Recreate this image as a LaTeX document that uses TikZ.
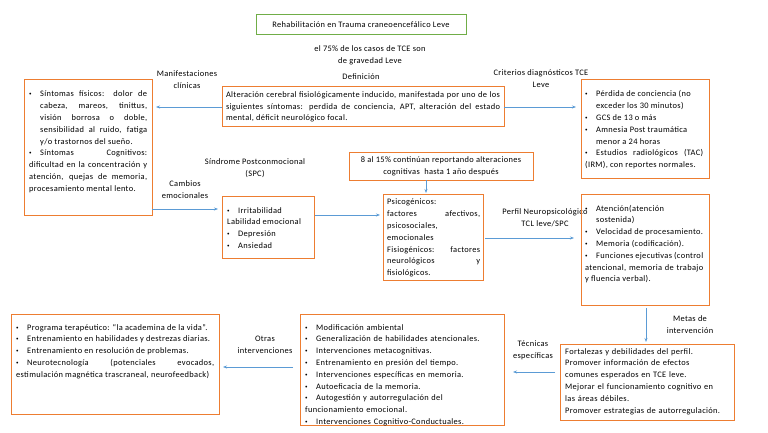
\documentclass[tikz,border=0pt]{standalone}
\usepackage{fontspec}
\setmainfont{Carlito}[LetterSpace=4]
\usetikzlibrary{arrows.meta}
\definecolor{org}{RGB}{237,125,49}
\definecolor{grn}{RGB}{112,173,71}
\definecolor{blu}{RGB}{91,155,213}
\hyphenpenalty=10000\relax
\exhyphenpenalty=10000\relax
\newcommand{\bt}[1]{\par\noindent\hangindent=11pt\hangafter=1\makebox[11pt][l]{\raisebox{1pt}{\scalebox{0.6}{\textbullet}}}#1}
\tikzset{
 bx/.style={draw=org,line width=1pt,inner sep=0pt,outer sep=0pt},
 tx/.style={inner sep=0pt,align=justify,font=\fontsize{8.4}{11.8}\selectfont},
 lb/.style={inner sep=0pt,align=center,font=\fontsize{8.4}{11.8}\selectfont},
 ar/.style={draw=blu,line width=0.8pt,-{Stealth[length=4pt,width=3pt]}}
}
\begin{document}
\begin{tikzpicture}[x=1pt,y=-1pt]
\useasboundingbox (0,0) rectangle (768,433);
% title
\draw[draw=grn,line width=1pt] (256,15) rectangle (466,35);
\node[lb] (title) at (361,25) {Rehabilitación en Trauma craneoencefálico Leve};
\node[lb] (pct) at (370,55) {el 75\% de los casos de TCE son\\de gravedad Leve};
\node[lb] (defl) at (361,77) {Definición};
% definition
\draw[bx] (222,87) rectangle (504,127);
\node[tx,text width=274pt] (def) at (363,107) {Alteración cerebral fisiológicamente inducido, manifestada por uno de los siguientes síntomas: perdida de conciencia, APT, alteración del estado mental, déficit neurológico focal.};
\coordinate (defL) at (222,107); \coordinate (defR) at (504,107);
% left top
\draw[bx] (24,80) rectangle (152,215);
\node[tx,text width=118pt,anchor=north west] (sint) at (29,85) {\bt{Síntomas físicos: dolor de cabeza, mareos, tinittus, visión borrosa o doble, sensibilidad al ruido, fatiga y/o trastornos del sueño.}\bt{Síntomas Cognitivos: dificultad en la concentración y atención, quejas de memoria, procesamiento mental lento.}};
\coordinate (sintR1) at (156,107); \coordinate (sintR2) at (152,209);
\node[lb] (manl) at (187,80) {Manifestaciones\\clínicas};
\draw[ar] (defL) -- (sintR1);
% criterios
\node[lb] (critl) at (541,79) {Criterios diagnósticos TCE\\Leve};
\draw[bx] (581,80) rectangle (709,178);
\node[tx,text width=118pt,anchor=north west] (crit) at (585,85) {\raggedright\bt{Pérdida de conciencia (no exceder los 30 minutos)}\bt{GCS de 13 o más}\bt{Amnesia Post traumática menor a 24 horas}\bt{Estudios radiológicos (TAC) (IRM), con reportes normales.}};
\coordinate (critL) at (576,107);
\draw[ar] (defR) -- (critL);
% SPC
\node[lb] (spcl) at (255,168) {Síndrome Postconmocional\\(SPC)};
\draw[bx] (349,152) rectangle (533,180);
\node[lb] (ocho) at (441,166) {8 al 15\% continúan reportando alteraciones\\cognitivas\ \ hasta 1 año después};
\coordinate (ochoB) at (426,180);
\node[lb] (caml) at (185,190) {Cambios\\emocionales};
\draw[bx] (222,196) rectangle (314,258);
\node[tx,text width=84pt,anchor=north west] (irr) at (227,201) {\raggedright\bt{Irritabilidad\\Labilidad emocional}\bt{Depresión}\bt{Ansiedad}};
\coordinate (irrL) at (218,209); \coordinate (irrR) at (315,215);
\draw[ar] (sintR2) -- (irrL);
\draw[bx] (383,194) rectangle (483,280);
\node[tx,text width=93pt,anchor=north west] (psi) at (387,199) {Psicogénicos:\\ factores afectivos, psicosociales, emocionales\\ Fisiogénicos: factores neurológicos y fisiológicos.};
\coordinate (psiT) at (426,193); \coordinate (psiL) at (380,215); \coordinate (psiR) at (485,238);
\draw[ar] (ochoB) -- (psiT);
\draw[ar] (irrR) -- (psiL);
\node[lb] (perl) at (545,218) {Perfil Neuropsicológico\\TCL leve/SPC};
\draw[bx] (581,194) rectangle (709,305);
\node[tx,text width=118pt,anchor=north west] (ate) at (585,199) {\bt{Atención(atención sostenida)}\bt{Velocidad de procesamiento.}\bt{Memoria (codificación).}\bt{Funciones ejecutivas (control atencional, memoria de trabajo y fluencia verbal).}};
\coordinate (ateL) at (574,238); \coordinate (ateB) at (646,308);
\draw[ar] (psiR) -- (ateL);
\node[lb] (metl) at (690,325) {Metas de\\intervención};
\draw[bx] (560,344) rectangle (734,420);
\node[tx,text width=168pt,anchor=north west,align=left] (fort) at (565,348) {Fortalezas y debilidades del perfil.\\Promover información de efectos\\comunes esperados en TCE leve.\\Mejorar el funcionamiento cognitivo en\\las áreas débiles.\\Promover estrategias de autorregulación.};
\coordinate (fortT) at (646,342); \coordinate (fortL) at (555,372);
\draw[ar] (ateB) -- (fortT);
\node[lb] (tecl) at (533,350) {Técnicas\\específicas};
\draw[bx] (300,314) rectangle (504,425);
\node[tx,text width=198pt,anchor=north west,align=left] (mod) at (305,318) {\bt{Modificación ambiental}\bt{Generalización de habilidades atencionales.}\bt{Intervenciones metacognitivas.}\bt{Entrenamiento en presión del tiempo.}\bt{Intervenciones específicas en memoria.}\bt{Autoeficacia de la memoria.}\bt{Autogestión y autorregulación del\\funcionamiento emocional.}\bt{Intervenciones Cognitivo-Conductuales.}};
\coordinate (modR) at (513,372); \coordinate (modL) at (293,367);
\draw[ar] (fortL) -- (modR);
\node[lb] (otrl) at (265,345) {Otras\\intervenciones};
\draw[bx] (11,314) rectangle (219,414);
\node[tx,text width=198pt,anchor=north west] (prog) at (16,318) {\bt{Programa terapéutico: “la academina de la vida”.}\bt{Entrenamiento en habilidades y destrezas diarias.}\bt{Entrenamiento en resolución de problemas.}\bt{Neurotecnología (potenciales evocados, estimulación magnética trascraneal, neurofeedback)}};
\coordinate (progR) at (223,367);
\draw[ar] (modL) -- (progR);
\end{tikzpicture}
\end{document}
